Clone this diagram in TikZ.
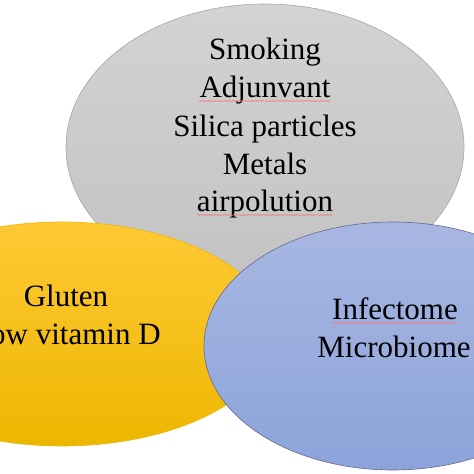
\documentclass[tikz,border=0pt]{standalone}
\usepackage{fontspec}
\setmainfont{Liberation Serif}
\usetikzlibrary{decorations.pathmorphing}

\tikzset{
  blobline/.style={draw=#1,line width=0.6bp},
  lbl/.style={anchor=base,inner sep=0pt,font=\fontsize{31bp}{38bp}\selectfont},
  spellmark/.style={draw=red!55!white,line width=0.5bp,decorate,
    decoration={snake,amplitude=0.6bp,segment length=3bp}}
}

\begin{document}
\begin{tikzpicture}[x=1bp,y=1bp]
\definecolor{causeGrayTop}{HTML}{D3D3D3}
\definecolor{causeGrayBot}{HTML}{C2C2C2}
\definecolor{causeGoldTop}{HTML}{FFC935}
\definecolor{causeGoldBot}{HTML}{ECB700}
\definecolor{causeBlueTop}{HTML}{A8B7E2}
\definecolor{causeBlueBot}{HTML}{8CA4DA}
\useasboundingbox (0,0) rectangle (474,474);
\clip (0,0) rectangle (474,474);
% three overlapping ellipses
\shade[top color=causeGrayTop,bottom color=causeGrayBot,blobline=gray!70]
  (265,327) ellipse [x radius=199,y radius=143];
\shade[top color=causeGoldTop,bottom color=causeGoldBot,blobline=causeGoldBot]
  (62,140) ellipse [x radius=212,y radius=112];
\shade[top color=causeBlueTop,bottom color=causeBlueBot,blobline=gray!80!blue]
  (393,128) ellipse [x radius=189,y radius=124];
% environmental factors
\foreach \yb/\txt [count=\i] in {414/Smoking,376/Adjunvant,337/Silica particles,299/Metals,262/airpolution} {
  \node[lbl] (env\i) at (265,\yb) {\txt};
}
% dietary factors
\node[lbl] (diet1) at (66,167) {Gluten};
\node[lbl] (diet2) at (66,129) {Low vitamin D};
% microbial factors
\node[lbl] (micro1) at (395,154) {Infectome};
\node[lbl] (micro2) at (394,116) {Microbiome};
% spell-check marks
\draw[spellmark] ([yshift=-3bp]env2.base west) -- ([yshift=-3bp]env2.base east);
\draw[spellmark] ([yshift=-3bp]env5.base west) -- ([yshift=-3bp]env5.base east);
\draw[spellmark] ([yshift=-3bp]micro1.base west) -- ([yshift=-3bp]micro1.base east);
\end{tikzpicture}
\end{document}
